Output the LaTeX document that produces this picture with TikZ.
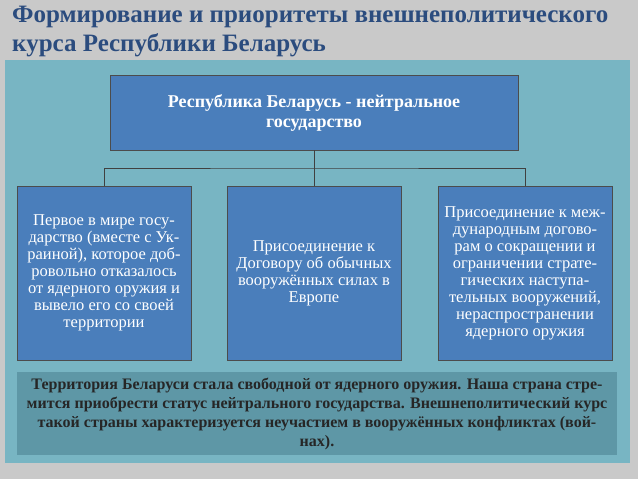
\documentclass[tikz,border=0pt]{standalone}
\usepackage{fontspec}
\setmainfont{Liberation Serif}
\begin{document}
\begin{tikzpicture}[x=1pt,y=-1pt,
  bluebox/.style={draw=black!70,line width=0.8pt,fill=boxblue,inner sep=0pt,text=white,align=center,font=\fontsize{16.5}{17}\selectfont},
  conn/.style={draw=black!75,line width=1pt}]
\definecolor{bg}{HTML}{C9C9C9}
\definecolor{panel}{HTML}{78B5C3}
\definecolor{boxblue}{HTML}{4A7EBB}
\definecolor{bottom}{HTML}{5E97A6}
\definecolor{title}{HTML}{2B4C7E}
\fill[bg] (0,0) rectangle (638,479);
\useasboundingbox (0,0) rectangle (638,479);
\fill[panel] (5,60) rectangle (630,463);
\node[anchor=north west,align=left,text=title,font=\fontsize{25}{29}\bfseries\selectfont,inner sep=0pt] (t) at (12,6) {Формирование и приоритеты внешнеполитического\\курса Республики Беларусь};
\node[bluebox,minimum width=408pt,minimum height=75pt,font=\fontsize{18}{20}\bfseries\selectfont] (top) at (314,112.5) {Республика Беларусь - нейтральное\\государство};
\node[bluebox,minimum width=174pt,minimum height=174pt] (b1) at (104,273) {Первое в мире госу-\\дарство (вместе с Ук-\\раиной), которое доб-\\ровольно отказалось\\от ядерного оружия и\\вывело его со своей\\территории};
\node[bluebox,minimum width=174pt,minimum height=174pt] (b2) at (314,273) {Присоединение к\\Договору об обычных\\вооружённых силах в\\Европе};
\node[bluebox,minimum width=174pt,minimum height=174pt] (b3) at (525,273) {Присоединение к меж-\\дународным догово-\\рам о сокращении и\\ограничении страте-\\гических наступа-\\тельных вооружений,\\нераспространении\\ядерного оружия};
\coordinate (h) at (314,168);
\draw[conn] (top.south) -- (h);
\draw[conn] (b1.north) |- (h) -| (b3.north);
\draw[conn] (h) -- (b2.north);
\node[fill=bottom,minimum width=600pt,minimum height=83pt,align=center,inner sep=0pt,text=black!85,font=\fontsize{16}{19}\bfseries\selectfont] (bt) at (317,413.5) {Территория Беларуси стала свободной от ядерного оружия. Наша страна стре-\\мится приобрести статус нейтрального государства. Внешнеполитический курс\\такой страны характеризуется неучастием в вооружённых конфликтах (вой-\\нах).};
\end{tikzpicture}
\end{document}
